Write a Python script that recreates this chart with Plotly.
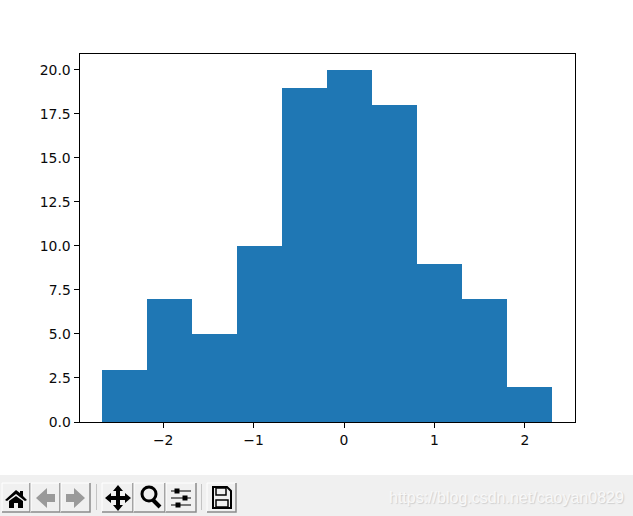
import numpy as np
import plotly.graph_objects as go

# histogram
bin_edges = [-2.678, -2.181, -1.684, -1.187, -0.690, -0.193, 0.304, 0.801, 1.298, 1.795, 2.296]
counts = [3, 7, 5, 10, 19, 20, 18, 9, 7, 2]
x_ticks = [-2, -1, 0, 1, 2]
y_ticks = [0, 2.5, 5, 7.5, 10, 12.5, 15, 17.5, 20]

W, H = 633, 516
edges = np.array(bin_edges)

fig = go.Figure()
fig.add_trace(go.Bar(x=(edges[:-1] + edges[1:]) / 2, y=counts, width=np.diff(edges),
                     marker=dict(color="#1f77b4", line=dict(width=0))))

fig.update_layout(
    width=W, height=H + 8, autosize=False, showlegend=False, bargap=0,  # page comes out 8px short otherwise
    margin=dict(l=0, r=0, t=0, b=0), paper_bgcolor="white", plot_bgcolor="rgba(0,0,0,0)",
    font=dict(family="DejaVu Sans", size=13.9, color="#0a0a0a"),
    xaxis=dict(domain=[79.5 / W, 575.1 / W], range=[-2.925, 2.555], tickvals=x_ticks, ticks="outside",
               ticklen=5, tickwidth=1, tickcolor="black", showgrid=False, zeroline=False,
               showline=True, mirror=True, linecolor="black", linewidth=1),
    yaxis=dict(domain=[1 - 422 / H, 1 - 53.5 / H], range=[0, 20.92], tickvals=y_ticks, tickformat=".1f",
               ticks="outside", ticklen=5, tickwidth=1, tickcolor="black", showgrid=False, zeroline=False,
               showline=True, mirror=True, linecolor="black", linewidth=1),
    # hidden overlay in window pixels for the toolbar
    xaxis2=dict(domain=[0, 1], range=[0, W], visible=False, fixedrange=True, anchor="y2"),
    yaxis2=dict(domain=[0, 1], range=[H, 0], visible=False, fixedrange=True, anchor="x2"),
)


def rect(x0, y0, x1, y1, fill, line=None):
    fig.add_shape(type="rect", xref="x2", yref="y2", x0=x0, y0=y0, x1=x1, y1=y1, fillcolor=fill,
                  line=dict(width=1 if line else 0, color=line or fill), layer="above")


def path(d, fill="black", line=None, width=0):
    fig.add_shape(type="path", xref="x2", yref="y2", path=d, fillcolor=fill,
                  line=dict(width=width, color=line or "rgba(0,0,0,0)"), layer="above")


def button(x0, x1):
    path(f"M{x0},512 L{x0},483 L{x1},483", fill="rgba(0,0,0,0)", line="white", width=1)
    path(f"M{x0},512 L{x1},512 L{x1},483", fill="rgba(0,0,0,0)", line="#8a8a8a", width=1.5)


# toolbar
rect(0, 475, W, H, "#f0f0f0")
for x0, x1 in [(2, 30), (31, 60), (61, 90), (102, 133), (134, 165), (166, 196), (207, 236)]:
    button(x0, x1)
rect(96, 484, 97, 510, "#c4c4c4")
rect(201, 484, 202, 510, "#c4c4c4")

# home
path("M16,490 L20,493 L20,491 L23,491 L23,496 L27,500 L25,501 L16,494 L7,501 L5,500 Z")
path("M9,501 L16,496 L23,501 L23,508 L18,508 L18,503 L14,503 L14,508 L9,508 Z")
# back, forward
path("M36,498 L47,488 L47,494 L55,494 L55,502 L47,502 L47,508 Z", fill="#9a9a9a")
path("M85,498 L74,488 L74,494 L66,494 L66,502 L74,502 L74,508 Z", fill="#9a9a9a")
# move
path("M118,485 L123,491 L120,491 L120,496 L125,496 L125,493 L131,498 L125,503 L125,500 "
     "L120,500 L120,505 L123,505 L118,511 L113,505 L116,505 L116,500 L111,500 L111,503 "
     "L105,498 L111,493 L111,496 L116,496 L116,491 L113,491 Z")
# zoom
fig.add_shape(type="circle", xref="x2", yref="y2", x0=142, y0=487, x1=156, y1=501,
              fillcolor="rgba(0,0,0,0)", line=dict(width=3, color="black"), layer="above")
path("M153,500 L160,507", fill="rgba(0,0,0,0)", line="black", width=4)
# sliders
for y, kx in [(491, 177), (498, 185), (505, 178)]:
    rect(171, y - 0.5, 191, y + 0.5, "black")
    rect(kx - 2.5, y - 2.5, kx + 2.5, y + 2.5, "black")
# save
path("M213,487 L227,487 L231,491 L231,508 L213,508 Z", fill="rgba(0,0,0,0)", line="black", width=2)
path("M216,488 L226,488 L226,495 L216,495 Z", fill="rgba(0,0,0,0)", line="black", width=1.5)
path("M216,500 L228,500 L228,507 L216,507 Z", fill="rgba(0,0,0,0)", line="black", width=1.5)

# watermark
fig.add_annotation(xref="x2", yref="y2", x=506.5, y=497, text="https://blog.csdn.net/caoyan0829", showarrow=False,
                   font=dict(family="Liberation Sans", size=16, color="#f8f8f8", shadow="1px 1px 1px #cfcfcf"))

fig.write_html("out.html", config=dict(displayModeBar=False),
               post_script="document.body.style.margin='0';document.documentElement.style.overflow='hidden';"
                           "window.scrollTo(0,0);")
